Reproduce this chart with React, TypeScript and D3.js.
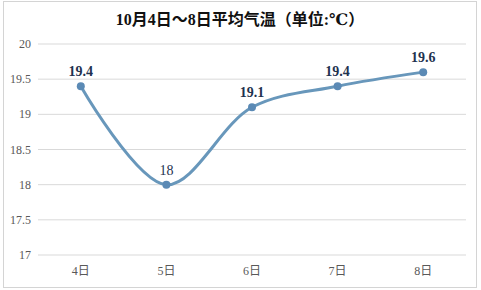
import React from "react";
import * as d3 from "d3";

const categories = ["4日", "5日", "6日", "7日", "8日"];
const values = [19.4, 18, 19.1, 19.4, 19.6];
const labels = ["19.4", "18", "19.1", "19.4", "19.6"];
const yTicks = [17, 17.5, 18, 18.5, 19, 19.5, 20];
const title = "10月4日～8日平均气温（单位:℃）";

export default function App() {
  const W = 481, H = 290;
  const left = 38, right = 466, top = 44, bottom = 255;
  const x = d3.scaleBand<string>().domain(categories).range([left, right]);
  const y = d3.scaleLinear().domain([17, 20]).range([bottom, top]);
  const cx = (c: string) => (x(c) ?? 0) + x.bandwidth() / 2;
  const pts: [number, number][] = categories.map((c, i) => [cx(c), y(values[i])]);
  const line = d3.line().curve(d3.curveCatmullRom.alpha(0.5));
  const serif = "'Liberation Serif', 'DejaVu Serif', 'Noto Sans CJK SC', serif";
  return (
    <svg width={W} height={H} style={{ position: "absolute", left: 0, top: 0, background: "#fff" }}>
      <rect x={3.5} y={1.5} width={473} height={286} fill="#fff" stroke="#d4d4d4" />
      <text x={240} y={25} textAnchor="middle" fontSize={16} fontWeight="bold" fill="#111"
        fontFamily={serif}>{title}</text>
      {yTicks.map((t) => (
        <g key={t}>
          <line x1={left} x2={right} y1={y(t)} y2={y(t)} stroke="#d9d9d9" strokeWidth={1} />
          <text x={31} y={y(t) + 4} textAnchor="end" fontSize={12} fill="#595959" fontFamily={serif}>{t}</text>
        </g>
      ))}
      {categories.map((c) => (
        <text key={c} x={cx(c)} y={275} textAnchor="middle" fontSize={12} fill="#595959"
          fontFamily={serif}>{c}</text>
      ))}
      <path d={line(pts) ?? ""} fill="none" stroke="#6897bb" strokeWidth={3} strokeLinejoin="round" strokeLinecap="round" />
      {pts.map(([px, py], i) => (
        <circle key={i} cx={px} cy={py} r={4} fill="#5b8ab5" />
      ))}
      {pts.map(([px, py], i) => (
        <text key={"l" + i} x={px} y={py - 10} textAnchor="middle" fontSize={14}
          fontWeight={labels[i] === "18" ? "normal" : "bold"} fill="#1f3350" fontFamily={serif}>{labels[i]}</text>
      ))}
    </svg>
  );
}
